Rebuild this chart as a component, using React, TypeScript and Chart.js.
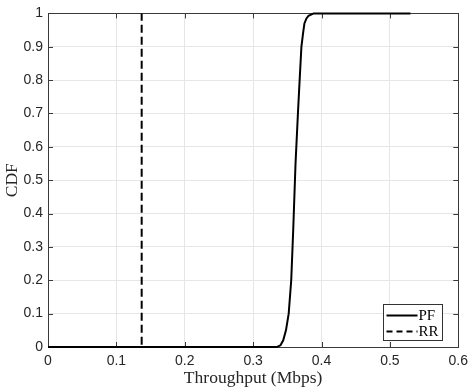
import React, { useEffect, useRef } from "react";
import { Chart, registerables } from "chart.js";

Chart.register(...registerables);

const pfX = [0, 0.335, 0.34, 0.344, 0.348, 0.352, 0.3557, 0.3586, 0.362, 0.3655, 0.368, 0.3706, 0.373, 0.375, 0.378, 0.381, 0.3885, 0.45, 0.53];
const pfY = [0, 0, 0.005, 0.02, 0.05, 0.1, 0.2, 0.35, 0.55, 0.7, 0.8, 0.9, 0.94, 0.97, 0.985, 0.993, 1, 1, 1];
const rrX = [0, 0.137, 0.137];
const rrY = [0, 0, 1];
const seriesNames = ["PF", "RR"];
const xTicks = [0, 0.1, 0.2, 0.3, 0.4, 0.5, 0.6];
const yTicks = [0, 0.1, 0.2, 0.3, 0.4, 0.5, 0.6, 0.7, 0.8, 0.9, 1];

const AXIS = "#3a3a3a";

const boxPlugin = {
  id: "matlabBox",
  beforeDatasetsDraw(chart: any) {
    const { ctx, chartArea: a, scales } = chart;
    ctx.save();
    ctx.strokeStyle = AXIS;
    ctx.lineWidth = 1;
    ctx.beginPath();
    const tl = 5;
    xTicks.forEach((v) => {
      const x = Math.round(scales.x.getPixelForValue(v)) + 0.5;
      ctx.moveTo(x, a.bottom);
      ctx.lineTo(x, a.bottom - tl);
      ctx.moveTo(x, a.top);
      ctx.lineTo(x, a.top + tl);
    });
    yTicks.forEach((v) => {
      const y = Math.round(scales.y.getPixelForValue(v)) + 0.5;
      ctx.moveTo(a.left, y);
      ctx.lineTo(a.left + tl, y);
      ctx.moveTo(a.right, y);
      ctx.lineTo(a.right - tl, y);
    });
    ctx.stroke();
    ctx.strokeRect(Math.round(a.left) + 0.5, Math.round(a.top) + 0.5, Math.round(a.right - a.left), Math.round(a.bottom - a.top));
    ctx.restore();
  },
  afterDatasetsDraw(chart: any) {
    const { ctx, chartArea: a } = chart;
    ctx.save();
    const bw = 59, bh = 36;
    const bx = Math.round(a.right) - 75 + 0.5;
    const by = Math.round(a.bottom) - 43 + 0.5;
    ctx.fillStyle = "#ffffff";
    ctx.fillRect(bx, by, bw, bh);
    ctx.strokeStyle = "#333333";
    ctx.lineWidth = 1;
    ctx.strokeRect(bx, by, bw, bh);
    ctx.font = "15px 'Liberation Serif'";
    ctx.textBaseline = "middle";
    ctx.textAlign = "left";
    seriesNames.forEach((name, i) => {
      const y = by + 11 + i * 16;
      ctx.strokeStyle = "#000";
      ctx.lineWidth = 2;
      ctx.setLineDash(i === 1 ? [6, 4] : []);
      ctx.beginPath();
      ctx.moveTo(bx + 3, y);
      ctx.lineTo(bx + 34, y);
      ctx.stroke();
      ctx.setLineDash([]);
      ctx.fillStyle = "#000";
      ctx.fillText(name, bx + 35, y + 1);
    });
    ctx.restore();
  },
};

export default function App() {
  const ref = useRef<HTMLCanvasElement>(null);
  useEffect(() => {
    if (!ref.current) return;
    const chart = new Chart(ref.current, {
      type: "scatter",
      data: {
        datasets: [
          {
            label: seriesNames[0],
            data: pfX.map((x, i) => ({ x, y: pfY[i] })),
            showLine: true,
            borderColor: "#000",
            borderWidth: 2,
            pointRadius: 0,
            tension: 0,
            clip: 4,
          },
          {
            label: seriesNames[1],
            data: rrX.map((x, i) => ({ x, y: rrY[i] })),
            showLine: true,
            borderColor: "#000",
            borderWidth: 2,
            borderDash: [8, 4],
            pointRadius: 0,
            tension: 0,
            clip: 4,
          },
        ],
      },
      options: {
        animation: false,
        responsive: false,
        layout: { autoPadding: false, padding: { left: 0, right: 11, top: 10, bottom: 0 } },
        plugins: { legend: { display: false }, tooltip: { enabled: false } },
        scales: {
          x: {
            type: "linear",
            min: 0,
            max: 0.6,
            afterBuildTicks: (s: any) => { s.ticks = xTicks.map((v) => ({ value: v })); },
            afterFit: (s: any) => { s.height = 44; },
            grid: { color: "#e6e6e6", drawTicks: false },
            border: { display: false },
            ticks: {
              font: { family: "'Liberation Sans'", size: 14 },
              color: "#262626",
              padding: 6,
              maxRotation: 0,
              callback: (v: any) => String(Number(v)),
            },
            title: {
              display: true,
              text: "Throughput (Mbps)",
              font: { family: "'Liberation Serif'", size: 17.5 },
              color: "#262626",
              padding: { top: 0, bottom: 2 },
            },
          },
          y: {
            min: 0,
            max: 1,
            afterBuildTicks: (s: any) => { s.ticks = yTicks.map((v) => ({ value: v })); },
            afterFit: (s: any) => { s.width = 48; },
            grid: { color: "#e6e6e6", drawTicks: false },
            border: { display: false },
            ticks: {
              font: { family: "'Liberation Sans'", size: 14 },
              color: "#262626",
              padding: 5,
              callback: (v: any) => String(Number(v)),
            },
            title: {
              display: true,
              text: "CDF",
              font: { family: "'Liberation Serif'", size: 17.5 },
              color: "#262626",
              padding: { top: 2, bottom: 0 },
            },
          },
        },
      },
      plugins: [boxPlugin],
    });
    return () => chart.destroy();
  }, []);
  return (
    <div style={{ position: "fixed", left: 0, top: 0, width: 474, height: 391, background: "#fff" }}>
      <canvas ref={ref} width={474} height={391} style={{ width: 474, height: 391 }} />
    </div>
  );
}
